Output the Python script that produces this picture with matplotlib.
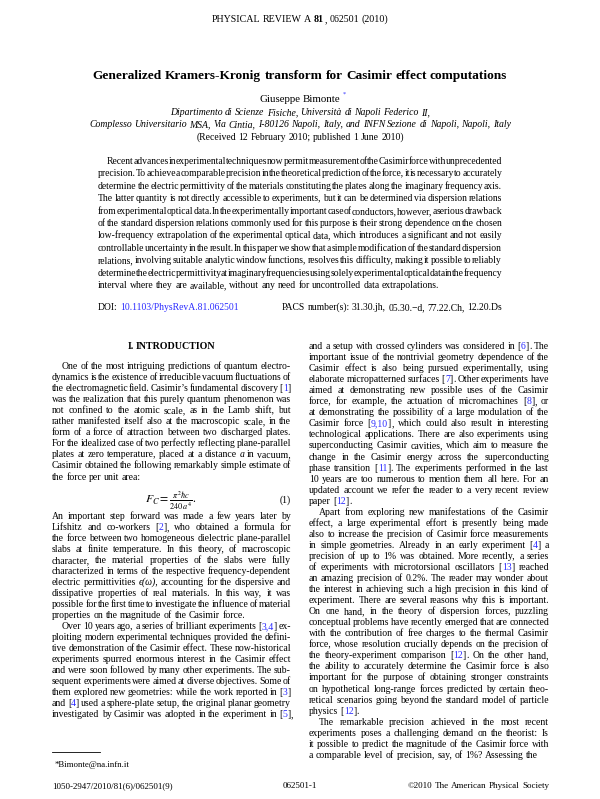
import re
import matplotlib
matplotlib.use('Agg')
import matplotlib.pyplot as plt

W, H = 600, 799
FAM = 'Liberation Serif'
BLUE = '#2a2aff'

header = "PHYSICAL REVIEW A |81|, 062501 (2010)"
title = "Generalized Kramers-Kronig transform for Casimir effect computations"
author = "Giuseppe Bimonte"
affil = ["Dipartimento di Scienze Fisiche, Università di Napoli Federico II,",
         "Complesso Universitario MSA, Via Cintia, I-80126 Napoli, Italy, and INFN Sezione di Napoli, Napoli, Italy"]
received = "(Received 12 February 2010; published 1 June 2010)"
abstract = [
    "Recent advances in experimental techniques now permit measurement of the Casimir force with unprecedented",
    "precision. To achieve a comparable precision in the theoretical prediction of the force, it is necessary to accurately",
    "determine the electric permittivity of the materials constituting the plates along the imaginary frequency axis.",
    "The latter quantity is not directly accessible to experiments, but it can be determined via dispersion relations",
    "from experimental optical data. In the experimentally important case of conductors, however, a serious drawback",
    "of the standard dispersion relations commonly used for this purpose is their strong dependence on the chosen",
    "low-frequency extrapolation of the experimental optical data, which introduces a significant and not easily",
    "controllable uncertainty in the result. In this paper we show that a simple modification of the standard dispersion",
    "relations, involving suitable analytic window functions, resolves this difficulty, making it possible to reliably",
    "determine the electric permittivity at imaginary frequencies using solely experimental optical data in the frequency",
    "interval where they are available, without any need for uncontrolled data extrapolations.",
]
doi_label = "DOI:"
doi = "10.1103/PhysRevA.81.062501"
pacs = "PACS number(s):  31.30.jh, 05.30.\u2212d, 77.22.Ch, 12.20.Ds"
heading = "I.  INTRODUCTION"
left_p1 = [
    "One of the most intriguing predictions of quantum electro-",
    "dynamics is the existence of irreducible vacuum fluctuations of",
    "the electromagnetic field. Casimir\u2019s fundamental discovery [1]",
    "was the realization that this purely quantum phenomenon was",
    "not confined to the atomic scale, as in the Lamb shift, but",
    "rather manifested itself also at the macroscopic scale, in the",
    "form of a force of attraction between two discharged plates.",
    "For the idealized case of two perfectly reflecting plane-parallel",
    "plates at zero temperature, placed at a distance ~a in vacuum,",
    "Casimir obtained the following remarkably simple estimate of",
    "the force per unit area:",
]
equation = r"$F_C = \frac{\pi^2\hbar c}{240\,a^4}$."
left_p2 = [
    "An important step forward was made a few years later by",
    "Lifshitz and co-workers [2], who obtained a formula for",
    "the force between two homogeneous dielectric plane-parallel",
    "slabs at finite temperature. In this theory, of macroscopic",
    "character, the material properties of the slabs were fully",
    "characterized in terms of the respective frequency-dependent",
    "electric permittivities ~\u03f5(\u03c9), accounting for the dispersive and",
    "dissipative properties of real materials. In this way, it was",
    "possible for the first time to investigate the influence of material",
    "properties on the magnitude of the Casimir force.",
]
left_p3 = [
    "Over 10 years ago, a series of brilliant experiments [3,4] ex-",
    "ploiting modern experimental techniques provided the defini-",
    "tive demonstration of the Casimir effect. These now-historical",
    "experiments spurred enormous interest in the Casimir effect",
    "and were soon followed by many other experiments. The sub-",
    "sequent experiments were aimed at diverse objectives. Some of",
    "them explored new geometries: while the work reported in [3]",
    "and [4] used a sphere-plate setup, the original planar geometry",
    "investigated by Casimir was adopted in the experiment in [5],",
]
right_p1 = [
    "and a setup with crossed cylinders was considered in [6]. The",
    "important issue of the nontrivial geometry dependence of the",
    "Casimir effect is also being pursued experimentally, using",
    "elaborate micropatterned surfaces [7]. Other experiments have",
    "aimed at demonstrating new possible uses of the Casimir",
    "force, for example, the actuation of micromachines [8], or",
    "at demonstrating the possibility of a large modulation of the",
    "Casimir force [9,10], which could also result in interesting",
    "technological applications. There are also experiments using",
    "superconducting Casimir cavities, which aim to measure the",
    "change in the Casimir energy across the superconducting",
    "phase transition [11]. The experiments performed in the last",
    "10 years are too numerous to mention them all here. For an",
    "updated account we refer the reader to a very recent review",
    "paper [12].",
]
right_p2 = [
    "Apart from exploring new manifestations of the Casimir",
    "effect, a large experimental effort is presently being made",
    "also to increase the precision of Casimir force measurements",
    "in simple geometries. Already in an early experiment [4] a",
    "precision of up to 1% was obtained. More recently, a series",
    "of experiments with microtorsional oscillators [13] reached",
    "an amazing precision of 0.2%. The reader may wonder about",
    "the interest in achieving such a high precision in this kind of",
    "experiment. There are several reasons why this is important.",
    "On one hand, in the theory of dispersion forces, puzzling",
    "conceptual problems have recently emerged that are connected",
    "with the contribution of free charges to the thermal Casimir",
    "force, whose resolution crucially depends on the precision of",
    "the theory-experiment comparison [12]. On the other hand,",
    "the ability to accurately determine the Casimir force is also",
    "important for the purpose of obtaining stronger constraints",
    "on hypothetical long-range forces predicted by certain theo-",
    "retical scenarios going beyond the standard model of particle",
    "physics [12].",
]
right_p3 = [
    "The remarkable precision achieved in the most recent",
    "experiments poses a challenging demand on the theorist: Is",
    "it possible to predict the magnitude of the Casimir force with",
    "a comparable level of precision, say, of 1%? Assessing the",
]
footnote = "*Bimonte@na.infn.it"
footer = ["1050-2947/2010/81(6)/062501(9)", "062501-1", "\u00a92010 The American Physical Society"]

fig = plt.figure(figsize=(6, 7.99), dpi=100)
fig.patch.set_facecolor('white')
r = fig.canvas.get_renderer()


def segs(word):
    style = 'normal'
    weight = None
    if word.startswith('~'):
        style = 'italic'
        word = word[1:]
    out = []
    for part in re.split(r'(\[[0-9,]+\]|\|[^|]+\|)', word):
        if not part:
            continue
        if re.fullmatch(r'\[[0-9,]+\]', part):
            out += [('[', None, style, weight), (part[1:-1], BLUE, style, weight), (']', None, style, weight)]
        elif part.startswith('|'):
            out.append((part[1:-1], None, style, 'bold'))
        else:
            out.append((part, None, style, weight))
    return out


def line(text, y, x0, x1=None, size=7.0, align='left', weight='normal', style=None, color='k'):
    y = round(y)
    words = [w for w in text.split(' ') if w != '']
    objs = []
    for w in words:
        ws = []
        for s, c, st, wt in segs(w):
            t = fig.text(0, 0, s, fontsize=size, family=FAM, color=c or color,
                         style=style or st, weight=wt or weight, va='baseline', ha='left')
            ws.append((t, t.get_window_extent(r).width))
        objs.append(ws)
    wwid = [sum(a[1] for a in ws) for ws in objs]
    space = size * 100 / 72 * 0.25
    total = sum(wwid) + space * (len(words) - 1)
    if align == 'justify' and len(words) > 1:
        space = (x1 - x0 - sum(wwid)) / (len(words) - 1)
        x = x0
    elif align == 'center':
        x = (x0 + x1) / 2 - total / 2
    elif align == 'right':
        x = x1 - total
    else:
        x = x0
    for ws, wd in zip(objs, wwid):
        xx = x
        for t, tw in ws:
            t.set_position((xx / W, 1 - y / H))
            xx += tw
        x += wd + space
    return x


def para(lines, y0, x0, x1, dy, size=7.0, indent=10, first_indent=True):
    y = y0
    for i, ln in enumerate(lines):
        last = i == len(lines) - 1
        xs = x0 + (indent if (i == 0 and first_indent) else 0)
        line(ln, y, xs, x1, size=size, align='left' if last else 'justify')
        y += dy
    return y


line(header, 22, 0, 600, size=7.2, align='center')
line(title, 79, 0, 600, size=9.6, align='center', weight='bold')
xe = line(author, 102, 0, 600, size=7.8, align='center')
fig.text((xe - 1) / W, 1 - 96 / H, '*', fontsize=4.5, family=FAM, color=BLUE, va='baseline')
line(affil[0], 115, 0, 600, size=7.0, align='center', style='italic')
line(affil[1], 127, 0, 600, size=7.0, align='center', style='italic')
line(received, 140, 0, 600, size=7.0, align='center')

para(abstract, 164, 98, 502, 12.4, size=6.9, indent=9)

line(doi_label, 310, 98, size=6.9)
fig.text(120 / W, 1 - 310 / H, doi, fontsize=6.9, family=FAM, color=BLUE, va='baseline')
line(pacs, 310, 250, 502, size=6.9, align='right')

LX0, LX1 = 52, 291
RX0, RX1 = 309, 549
DY = 11.05
line(heading, 349, LX0, LX1, size=7.2, align='center', weight='bold')
y = para(left_p1, 369, LX0, LX1, DY)
fig.text(171 / W, 1 - (y + 10) / H, equation, fontsize=8.5, family=FAM, va='center', ha='center',
         math_fontfamily='stix')
line("(1)", y + 12, LX0, LX1, align='right')
y = para(left_p2, y + 28, LX0, LX1, DY, first_indent=False)
y = para(left_p3, y, LX0, LX1, DY)

y = para(right_p1, 349, RX0, RX1, DY, first_indent=False)
y = para(right_p2, y, RX0, RX1, DY)
y = para(right_p3, y, RX0, RX1, DY)

fig.add_artist(plt.Line2D([LX0 / W, 100 / W], [1 - 752 / H, 1 - 752 / H], color='k', lw=0.6))
line(footnote, 767, LX0 + 3, size=6.3)
line(footer[0], 788, LX0, size=6.5)
line(footer[1], 788, 280, 320, size=6.5, align='center')
line(footer[2], 788, RX0, RX1, size=6.5, align='right')

fig.savefig('out.png', dpi=100, facecolor='white')
